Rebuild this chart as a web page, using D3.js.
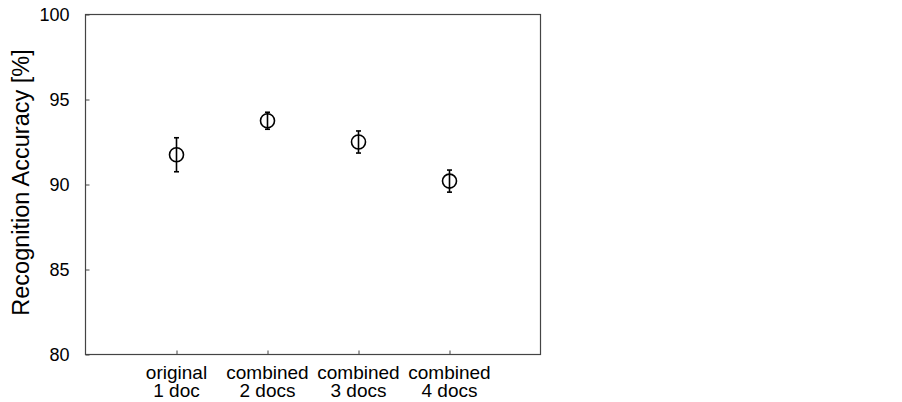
<!DOCTYPE html>
<html>
<head>
<meta charset="utf-8">
<script src="https://cdn.jsdelivr.net/npm/d3@7"></script>
<style>
  html, body { margin: 0; padding: 0; background: #fff; }
  svg { display: block; }
  text { font-family: "Liberation Sans", Arial, sans-serif; fill: #000; }
</style>
</head>
<body>
<svg id="chart" width="902" height="402"></svg>
<script>
const categories = [["original", "1 doc"], ["combined", "2 docs"], ["combined", "3 docs"], ["combined", "4 docs"]];
const values = [91.75, 93.75, 92.5, 90.2];
const errors = [1.0, 0.5, 0.65, 0.65];
const yTicks = [80, 85, 90, 95, 100];
const yLabel = "Recognition Accuracy [%]";

(function () {
const svg = d3.select("#chart");
const mLeft = 85.5, mRight = 540.5, mTop = 14.5, mBottom = 354.5;

const x = d3.scaleLinear().domain([0, categories.length + 1]).range([mLeft, mRight]);
const y = d3.scaleLinear().domain([80, 100]).range([mBottom, mTop]);

// frame
svg.append("rect")
  .attr("x", mLeft).attr("y", mTop)
  .attr("width", mRight - mLeft).attr("height", mBottom - mTop)
  .attr("fill", "none").attr("stroke", "#444").attr("stroke-width", 1.2);

// y axis
const yAxis = svg.append("g").attr("transform", `translate(${mLeft},0)`)
  .call(d3.axisLeft(y).tickValues(yTicks).tickSizeInner(-4).tickSizeOuter(0).tickPadding(16));
yAxis.select(".domain").remove();
yAxis.selectAll("line").attr("stroke", "#444");
yAxis.selectAll("text").style("font-size", "18px").style("font-family", '"Liberation Sans", Arial, sans-serif').attr("fill", "#000");

// x axis
const idx = categories.map((d, i) => i + 1);
const xAxis = svg.append("g").attr("transform", `translate(0,${mBottom})`)
  .call(d3.axisBottom(x).tickValues(idx).tickSizeInner(-4).tickSizeOuter(0).tickFormat(""));
xAxis.select(".domain").remove();
xAxis.selectAll("line").attr("stroke", "#444");

const xl = svg.append("g");
categories.forEach((c, i) => {
  const t = xl.append("text")
    .attr("x", x(i + 1)).attr("y", mBottom + 24)
    .attr("text-anchor", "middle")
    .style("font-size", "19px");
  t.append("tspan").attr("x", x(i + 1)).attr("dy", 0).text(c[0]);
  t.append("tspan").attr("x", x(i + 1)).attr("dy", 18.4).text(c[1]);
});

// y label
svg.append("text")
  .attr("transform", `translate(29,${(mTop + mBottom) / 2 - 2}) rotate(-90)`)
  .attr("text-anchor", "middle")
  .style("font-size", "23.5px")
  .text(yLabel);

// error bars
const g = svg.append("g");
values.forEach((v, i) => {
  const cx = x(i + 1);
  const e = errors[i];
  g.append("line").attr("x1", cx).attr("x2", cx).attr("y1", y(v + e)).attr("y2", y(v - e))
    .attr("stroke", "#000").attr("stroke-width", 1.6);
  [v + e, v - e].forEach(w => {
    g.append("line").attr("x1", cx - 2.5).attr("x2", cx + 2.5).attr("y1", y(w)).attr("y2", y(w))
      .attr("stroke", "#000").attr("stroke-width", 1.6);
  });
  g.append("circle").attr("cx", cx).attr("cy", y(v)).attr("r", 7)
    .attr("fill", "none").attr("stroke", "#000").attr("stroke-width", 1.6);
});
})();
</script>
</body>
</html>
